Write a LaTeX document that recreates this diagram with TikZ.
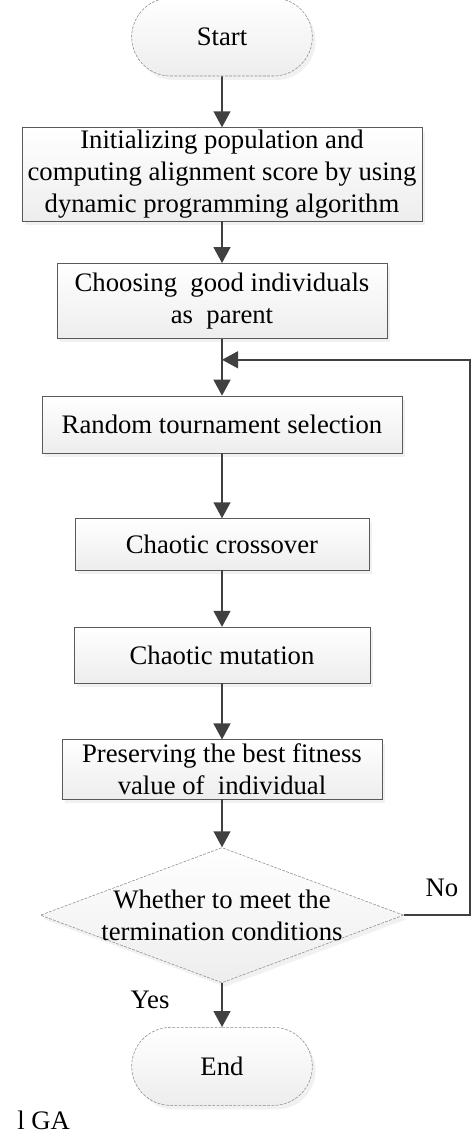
\documentclass[tikz,border=0pt]{standalone}
\usepackage{fontspec}
\setmainfont{Liberation Serif}
\usetikzlibrary{arrows.meta,positioning,shapes.geometric,shapes.misc,shadows,calc}
\definecolor{flowgray}{RGB}{64,64,64}
\definecolor{edgegray}{RGB}{90,90,90}

\begin{document}
\begin{tikzpicture}[
    x=0.025cm, y=-0.025cm,
    node distance=1.35cm,
    txt/.style={
        font=\fontsize{19}{22.7}\selectfont,
        align=center
    },
    box/.style={
        txt,
        rectangle,
        draw=edgegray,
        thin,
        top color=white,
        bottom color=gray!14,
        drop shadow={shadow xshift=0.08cm, shadow yshift=-0.1cm, fill=gray!22},
        inner sep=1pt
    },
    terminal/.style={
        txt,
        rounded rectangle,
        draw=gray!90,
        dashed,
        dash pattern=on 2pt off 1pt,
        thin,
        top color=white,
        bottom color=gray!14,
        drop shadow={shadow xshift=0.08cm, shadow yshift=-0.1cm, fill=gray!22},
        minimum width=4.75cm,
        minimum height=1.95cm
    },
    decision/.style={
        diamond,
        draw=gray!90,
        dash pattern=on 2pt off 1pt,
        thin,
        top color=white,
        bottom color=gray!14,
        drop shadow={shadow xshift=0.08cm, shadow yshift=-0.1cm, fill=gray!22},
        minimum width=9.08cm,
        minimum height=3.38cm,
        inner sep=0pt
    },
    arr/.style={
        -{Triangle[length=0.4cm, width=0.42cm]},
        line width=1.4pt,
        flowgray
    },
    lbl/.style={
        txt,
        inner sep=0pt
    }
]
\useasboundingbox (0,0) rectangle (472,1138);

% Start
\node[terminal] (start) at (222,37) {Start};

% Initialization
\node[box, below=1.275cm of start, minimum width=10cm, minimum height=2.33cm] (init)
    {Initializing population and\\computing alignment score by using\\dynamic programming algorithm};
\node[box, below=1.05cm of init, minimum width=8.25cm, minimum height=1.875cm] (choose)
    {Choosing\ \ good individuals\\as\ \ parent};

% GA loop
\node[box, below=1.425cm of choose, minimum width=9cm, minimum height=1.43cm] (select)
    {Random tournament selection};
\node[box, below=1.62cm of select, minimum width=7.35cm, minimum height=1.28cm] (cross)
    {Chaotic crossover};
\node[box, below=1.42cm of cross, minimum width=7.4cm, minimum height=1.4cm] (mutate)
    {Chaotic mutation};
\node[box, below=1.4cm of mutate, minimum width=8cm, minimum height=1.48cm] (keep)
    {Preserving the best fitness\\value of\ \ individual};

% Termination test
\node[decision, below=1.2cm of keep] (cond) {};
\node[lbl] (condtext) at (cond) {Whether to meet the\\termination conditions};

% End
\node[terminal, below=1.1cm of cond] (stop) {End};

% Loop points
\coordinate (merge) at ($(choose.south)!0.37!(select.north)$);
\coordinate (loopturn) at (cond.east -| 470,0);

% Arrows
\draw[arr] (start) -- (init);
\draw[arr] (init) -- (choose);
\draw[arr] (choose) -- (select);
\draw[arr] (select) -- (cross);
\draw[arr] (cross) -- (mutate);
\draw[arr] (mutate) -- (keep);
\draw[arr] (keep) -- (cond.north);
\draw[arr] (cond.south) -- (stop);
\draw[arr] (cond.east) -- (loopturn) |- (merge);

% Branch labels
\node[lbl] (nolbl) at (442,888) {No};
\node[lbl] (yeslbl) at (150,1000) {Yes};

% Caption fragment
\node[lbl, anchor=south west] (caption) at (17,1130) {l GA};

\end{tikzpicture}
\end{document}
